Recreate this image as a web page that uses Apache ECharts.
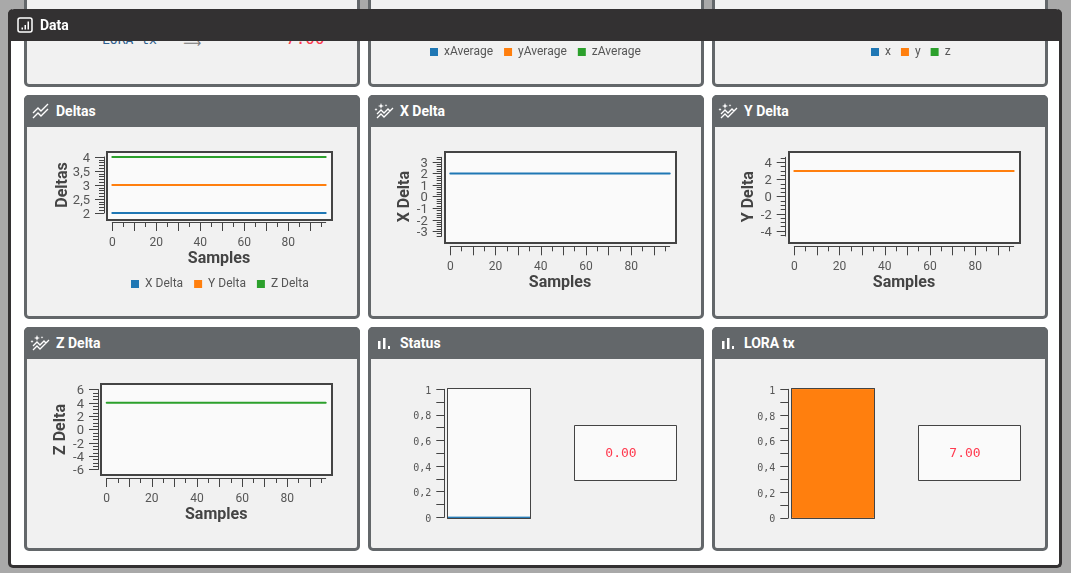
<!DOCTYPE html>
<html><head><meta charset="utf-8">
<script src="https://cdn.jsdelivr.net/npm/echarts@6/dist/echarts.min.js"></script>
<style>
html,body{margin:0;padding:0;width:1071px;height:573px;overflow:hidden;background:#a9a9a9;font-family:Roboto,sans-serif}
#win{position:absolute;left:8px;top:9px;width:1048px;height:556px;border:3px solid #333132;border-top:0;background:#fff;border-radius:5px 5px 5px 5px}
#winHead{position:absolute;left:8px;top:9px;width:1054px;height:32px;background:#333132;border-radius:6px 6px 0 0;z-index:5;color:#fff;font-weight:700;font-size:14px;line-height:32px}
#winHead span{position:absolute;left:32px;top:0}
#winHead svg{position:absolute;left:9px;top:8px}
.card{position:absolute;box-sizing:border-box;width:336px;background:#f1f1f1;border:3px solid #63676a;border-radius:5px}
.head{position:absolute;left:-3px;top:-3px;width:336px;height:32px;background:#63676a;border-radius:5px 5px 0 0;color:#fff;font-weight:700;font-size:14px;line-height:32px}
.head span{position:absolute;left:32px;top:0}
.head svg{position:absolute;left:6px;top:6px}
#c{position:absolute;left:0;top:0;width:1071px;height:573px;z-index:2}
.clip{position:absolute;z-index:1;font:13px "DejaVu Sans Mono",monospace;white-space:pre;line-height:15px}
</style></head><body>
<div id="win"></div>
<div id="winHead"><svg width="16" height="16" viewBox="0 0 16 16" fill="none"><rect x="1" y="1" width="14" height="14" rx="2" stroke="#fff" stroke-width="1.5"/><path d="M4.5 10.5h1.5v2H4.5zM7.5 8h1.5v4.5H7.5zM10.5 4.5H12v8h-1.5z" fill="#fff"/></svg><span>Data</span></div>
<div id="cards"></div>
<div class="clip" style="left:102px;top:32px;color:#2f5f8f">LORA tx</div>
<div class="clip" style="left:183px;top:35px;color:#777;font-family:'DejaVu Sans';font-size:12.6px">⟶</div>
<div class="clip" style="left:286px;top:31px;color:#ff3a4f;font-size:16px">7.00</div>
<div id="c"></div>
<script>
// ---------- data ----------
const samples = [0, 97];
const xDelta = [2, 2];
const yDelta = [3, 3];
const zDelta = [4, 4];
const statusValue = [0];
const loraValue = [7];
const sampleLabels = [0, 20, 40, 60, 80];
const sampleMajorTicks = [0, 10, 20, 30, 40, 50, 60, 70, 80, 90];
const sampleMinorTicks = [5, 15, 25, 35, 45, 55, 65, 75, 85, 95];
const deltasTicks = [2, 2.5, 3, 3.5, 4];
const deltasMinor = [2.1, 2.2, 2.3, 2.4, 2.6, 2.7, 2.8, 2.9, 3.1, 3.2, 3.3, 3.4, 3.6, 3.7, 3.8, 3.9];
const xDeltaTicks = [-3, -2, -1, 0, 1, 2, 3];
const xDeltaMinor = [-3.4, -3.2, -2.8, -2.6, -2.4, -2.2, -1.8, -1.6, -1.4, -1.2, -0.8, -0.6, -0.4, -0.2, 0.2, 0.4, 0.6, 0.8, 1.2, 1.4, 1.6, 1.8, 2.2, 2.4, 2.6, 2.8, 3.2, 3.4];
const yDeltaTicks = [-4, -2, 0, 2, 4];
const yDeltaMinor = [-4.5, -3.5, -3, -2.5, -1.5, -1, -0.5, 0.5, 1, 1.5, 2.5, 3, 3.5, 4.5];
const zDeltaTicks = [-6, -4, -2, 0, 2, 4, 6];
const zDeltaMinor = [-5.5, -5, -4.5, -3.5, -3, -2.5, -1.5, -1, -0.5, 0.5, 1, 1.5, 2.5, 3, 3.5, 4.5, 5, 5.5];
const barLabels = [0, 0.2, 0.4, 0.6, 0.8, 1];
const barTicks = [0, 0.1, 0.2, 0.3, 0.4, 0.5, 0.6, 0.7, 0.8, 0.9, 1];
const BLUE = '#1f77b4', ORANGE = '#ff7f0e', GREEN = '#2ca02c';

// ---------- page chrome ----------
const zig = '<path d="M2 13l5-5 3 3 7-7M2 18l5-5 3 3 7-7" transform="translate(1,-1)" fill="none" stroke="#fff" stroke-width="1.4"/>';
const star = '<path d="M3 13l4-4 3 3 4-4 2 2 3-3M3 17l4-4 3 3 6-6" fill="none" stroke="#fff" stroke-width="1.3"/><path d="M7 2l.8 2.2L10 5l-2.2.8L7 8l-.8-2.2L4 5l2.2-.8zM2 7l.5 1 1 .5-1 .5-.5 1-.5-1-1-.5 1-.5zM12 3l.4 1 1 .4-1 .4-.4 1-.4-1-1-.4 1-.4z" fill="#fff"/>';
const bars = '<path d="M4 8h2.5v8H4zM9 5h2.5v11H9zM14 13h2v3h-2z" fill="#fff"/>';
const cardDefs = [
 [24,-100,187,'',''],[368,-100,187,'',''],[712,-100,187,'',''],
 [24,95,224,'Deltas',zig],[368,95,224,'X Delta',star],[712,95,224,'Y Delta',star],
 [24,327,224,'Z Delta',star],[368,327,224,'Status',bars],[712,327,224,'LORA tx',bars]];
document.getElementById('cards').innerHTML = cardDefs.map(d =>
 `<div class="card" style="left:${d[0]}px;top:${d[1]}px;height:${d[2]}px">` +
 (d[3] ? `<div class="head"><svg width="20" height="20" viewBox="0 0 20 20">${d[4]}</svg><span>${d[3]}</span></div>` : '') + '</div>').join('');

// ---------- chart ----------
const chart = echarts.init(document.getElementById('c'), null, {renderer: 'canvas'});
const grid = [], xAxis = [], yAxis = [], series = [], legend = [], graphic = [];
const comma = v => String(v).replace('.', ',');
const LABEL = '#565656', INK = '#444';
const MONO = '"DejaVu Sans Mono", monospace';

function frame(x, y, w, h, lw, z) {
  graphic.push({type: 'rect', silent: true, z: z || 0, shape: {x, y, width: w, height: h},
    style: {fill: z ? 'none' : '#fafafa', stroke: INK, lineWidth: lw}});
}

function linePanel(p) {
  const g = grid.length;
  grid.push({left: p.left, top: p.top, width: p.width, height: p.height, containLabel: false});
  frame(p.fr[0], p.fr[1], p.fr[2], p.fr[3], 2);
  const xBase = {type: 'value', gridIndex: g, min: 0, max: 97, position: 'bottom', offset: p.xOff, splitLine: {show: false}};
  xAxis.push(Object.assign({}, xBase, {
    name: 'Samples', nameLocation: 'middle', nameGap: 29,
    nameTextStyle: {fontFamily: 'Roboto', fontWeight: 'bold', fontSize: 16, color: INK},
    axisLine: {show: true, onZero: false, lineStyle: {color: INK}},
    axisTick: {show: true, length: 9, customValues: sampleMajorTicks, lineStyle: {color: INK}},
    axisLabel: {show: true, customValues: sampleLabels, margin: 15, fontFamily: 'Roboto', fontSize: 12, color: LABEL}
  }));
  const xi = xAxis.length;
  xAxis.push(Object.assign({}, xBase, {
    axisLine: {show: false, onZero: false},
    axisTick: {show: true, length: 5, customValues: sampleMinorTicks, lineStyle: {color: INK}},
    axisLabel: {show: false}
  }));
  const yBase = {type: 'value', gridIndex: g, min: p.min, max: p.max, position: 'left', offset: p.yOff, splitLine: {show: false}};
  const yLabel = {show: true, margin: 14, hideOverlap: false, formatter: comma, verticalAlign: 'top', lineHeight: 3, fontFamily: 'Roboto', fontSize: 13, color: LABEL};
  yAxis.push(Object.assign({}, yBase, {
    name: p.name, nameLocation: 'middle', nameGap: p.nameGap,
    nameTextStyle: {fontFamily: 'Roboto', fontWeight: 'bold', fontSize: 16, color: INK},
    axisLine: {show: true, onZero: false, lineStyle: {color: INK}},
    axisTick: {show: true, length: 9, customValues: p.ticks, lineStyle: {color: INK}},
    axisLabel: Object.assign({}, yLabel, {customValues: p.ticks.filter((t, i) => i % 2 === 0)})
  }));
  const yMain = yAxis.length - 1;
  yAxis.push(Object.assign({}, yBase, {
    axisLine: {show: false, onZero: false},
    axisTick: {show: true, length: 5, customValues: p.minor, lineStyle: {color: INK}},
    axisLabel: Object.assign({}, yLabel, {customValues: p.ticks.filter((t, i) => i % 2 === 1)})
  }));
  p.lines.forEach(l => series.push({
    type: 'line', name: l.name, xAxisIndex: xi - 1, yAxisIndex: yMain, clip: false, silent: true, symbol: 'none', z: 3,
    color: l.color, itemStyle: {color: l.color}, lineStyle: {color: l.color, width: 2, cap: 'round'},
    data: samples.map((s, i) => [s, l.values[i]])
  }));
}

function barPanel(p) {
  const g = grid.length;
  grid.push({left: p.left, top: 389.3, width: 82, height: p.height});
  frame(p.left - 0.5, 388.5, 83, 130, 1);
  frame(p.left - 0.5, 388.5, 83, 130, 1, 10);
  xAxis.push({type: 'category', gridIndex: g, show: false, data: ['value']});
  yAxis.push({type: 'value', gridIndex: g, min: 0, max: 1, position: 'left', offset: 3.7, splitLine: {show: false},
    axisLine: {show: true, onZero: false, lineStyle: {color: INK}},
    axisTick: {show: true, length: 8, customValues: barTicks, lineStyle: {color: INK}},
    axisLabel: {show: true, customValues: barLabels, margin: 13, formatter: comma, verticalAlign: 'top', lineHeight: 4, fontFamily: MONO, fontSize: 10, color: LABEL}});
  series.push({type: 'bar', name: p.name, xAxisIndex: xAxis.length - 1, yAxisIndex: yAxis.length - 1, silent: true, barWidth: '100%', clip: true, z: 3,
    itemStyle: {color: p.color, borderColor: p.color, borderWidth: 1}, data: p.values});
  graphic.push({type: 'rect', silent: true, z: 1, shape: {x: p.box, y: 425.5, width: 102, height: 55}, style: {fill: '#fafafa', stroke: INK, lineWidth: 1}});
  graphic.push({type: 'text', silent: true, z: 11, x: p.box + 46.5, y: 453.3,
    style: {text: p.values[0].toFixed(2), fill: '#ff3a4f', font: '13px ' + MONO, textAlign: 'center', textVerticalAlign: 'middle'}});
}

linePanel({name: 'Deltas', left: 112.3, top: 157, width: 213.4, height: 56, fr: [107, 152, 225, 68], xOff: 9, yOff: 8.3, nameGap: 33.5,
  min: 2, max: 4, ticks: deltasTicks, minor: deltasMinor,
  lines: [{name: 'X Delta', color: BLUE, values: xDelta}, {name: 'Y Delta', color: ORANGE, values: yDelta}, {name: 'Z Delta', color: GREEN, values: zDelta}]});
linePanel({name: 'X Delta', left: 450.3, top: 157.3, width: 219.4, height: 78.7, fr: [445, 152, 231, 91], xOff: 10.3, yOff: 8.6, nameGap: 27,
  min: -3.4, max: 3.4, ticks: xDeltaTicks, minor: xDeltaMinor, lines: [{name: 'X Delta', color: BLUE, values: xDelta}]});
linePanel({name: 'Y Delta', left: 794.3, top: 157.3, width: 219.4, height: 78.7, fr: [789, 152, 231, 91], xOff: 10.3, yOff: 8.6, nameGap: 27,
  min: -4.6, max: 4.6, ticks: yDeltaTicks, minor: yDeltaMinor, lines: [{name: 'Y Delta', color: ORANGE, values: yDelta}]});
linePanel({name: 'Z Delta', left: 106.7, top: 389.5, width: 219, height: 80, fr: [101, 384, 231, 91], xOff: 8.5, yOff: 8.7, nameGap: 27,
  min: -6, max: 6, ticks: zDeltaTicks, minor: zDeltaMinor, lines: [{name: 'Z Delta', color: GREEN, values: zDelta}]});
barPanel({name: 'Status', left: 448, box: 574.5, height: 128, color: BLUE, values: statusValue});
barPanel({name: 'LORA tx', left: 792, box: 918.5, height: 128.6, color: ORANGE, values: loraValue});

// legend-only series of the cards scrolled out under the header
[['xAverage', BLUE], ['yAverage', ORANGE], ['zAverage', GREEN], ['x', BLUE], ['y', ORANGE], ['z', GREEN]].forEach(n =>
  series.push({type: 'line', name: n[0], xAxisIndex: 0, yAxisIndex: 0, symbol: 'none', color: n[1], itemStyle: {color: n[1]}, data: []}));

const legendBase = {icon: 'rect', itemWidth: 8, itemHeight: 8, itemGap: 11, padding: 0,
  textStyle: {fontFamily: 'Roboto', fontSize: 12, color: '#565656', padding: [0, 0, 0, 1]}, selectedMode: false};
legend.push(Object.assign({}, legendBase, {left: 131, top: 278, data: ['X Delta', 'Y Delta', 'Z Delta']}));
legend.push(Object.assign({}, legendBase, {left: 430, top: 46, data: ['xAverage', 'yAverage', 'zAverage']}));
legend.push(Object.assign({}, legendBase, {left: 871, top: 46, itemGap: 10, data: ['x', 'y', 'z']}));

chart.setOption({animation: false, backgroundColor: 'transparent', tooltip: {show: false}, grid, xAxis, yAxis, series, legend, graphic});
</script>
</body></html>
